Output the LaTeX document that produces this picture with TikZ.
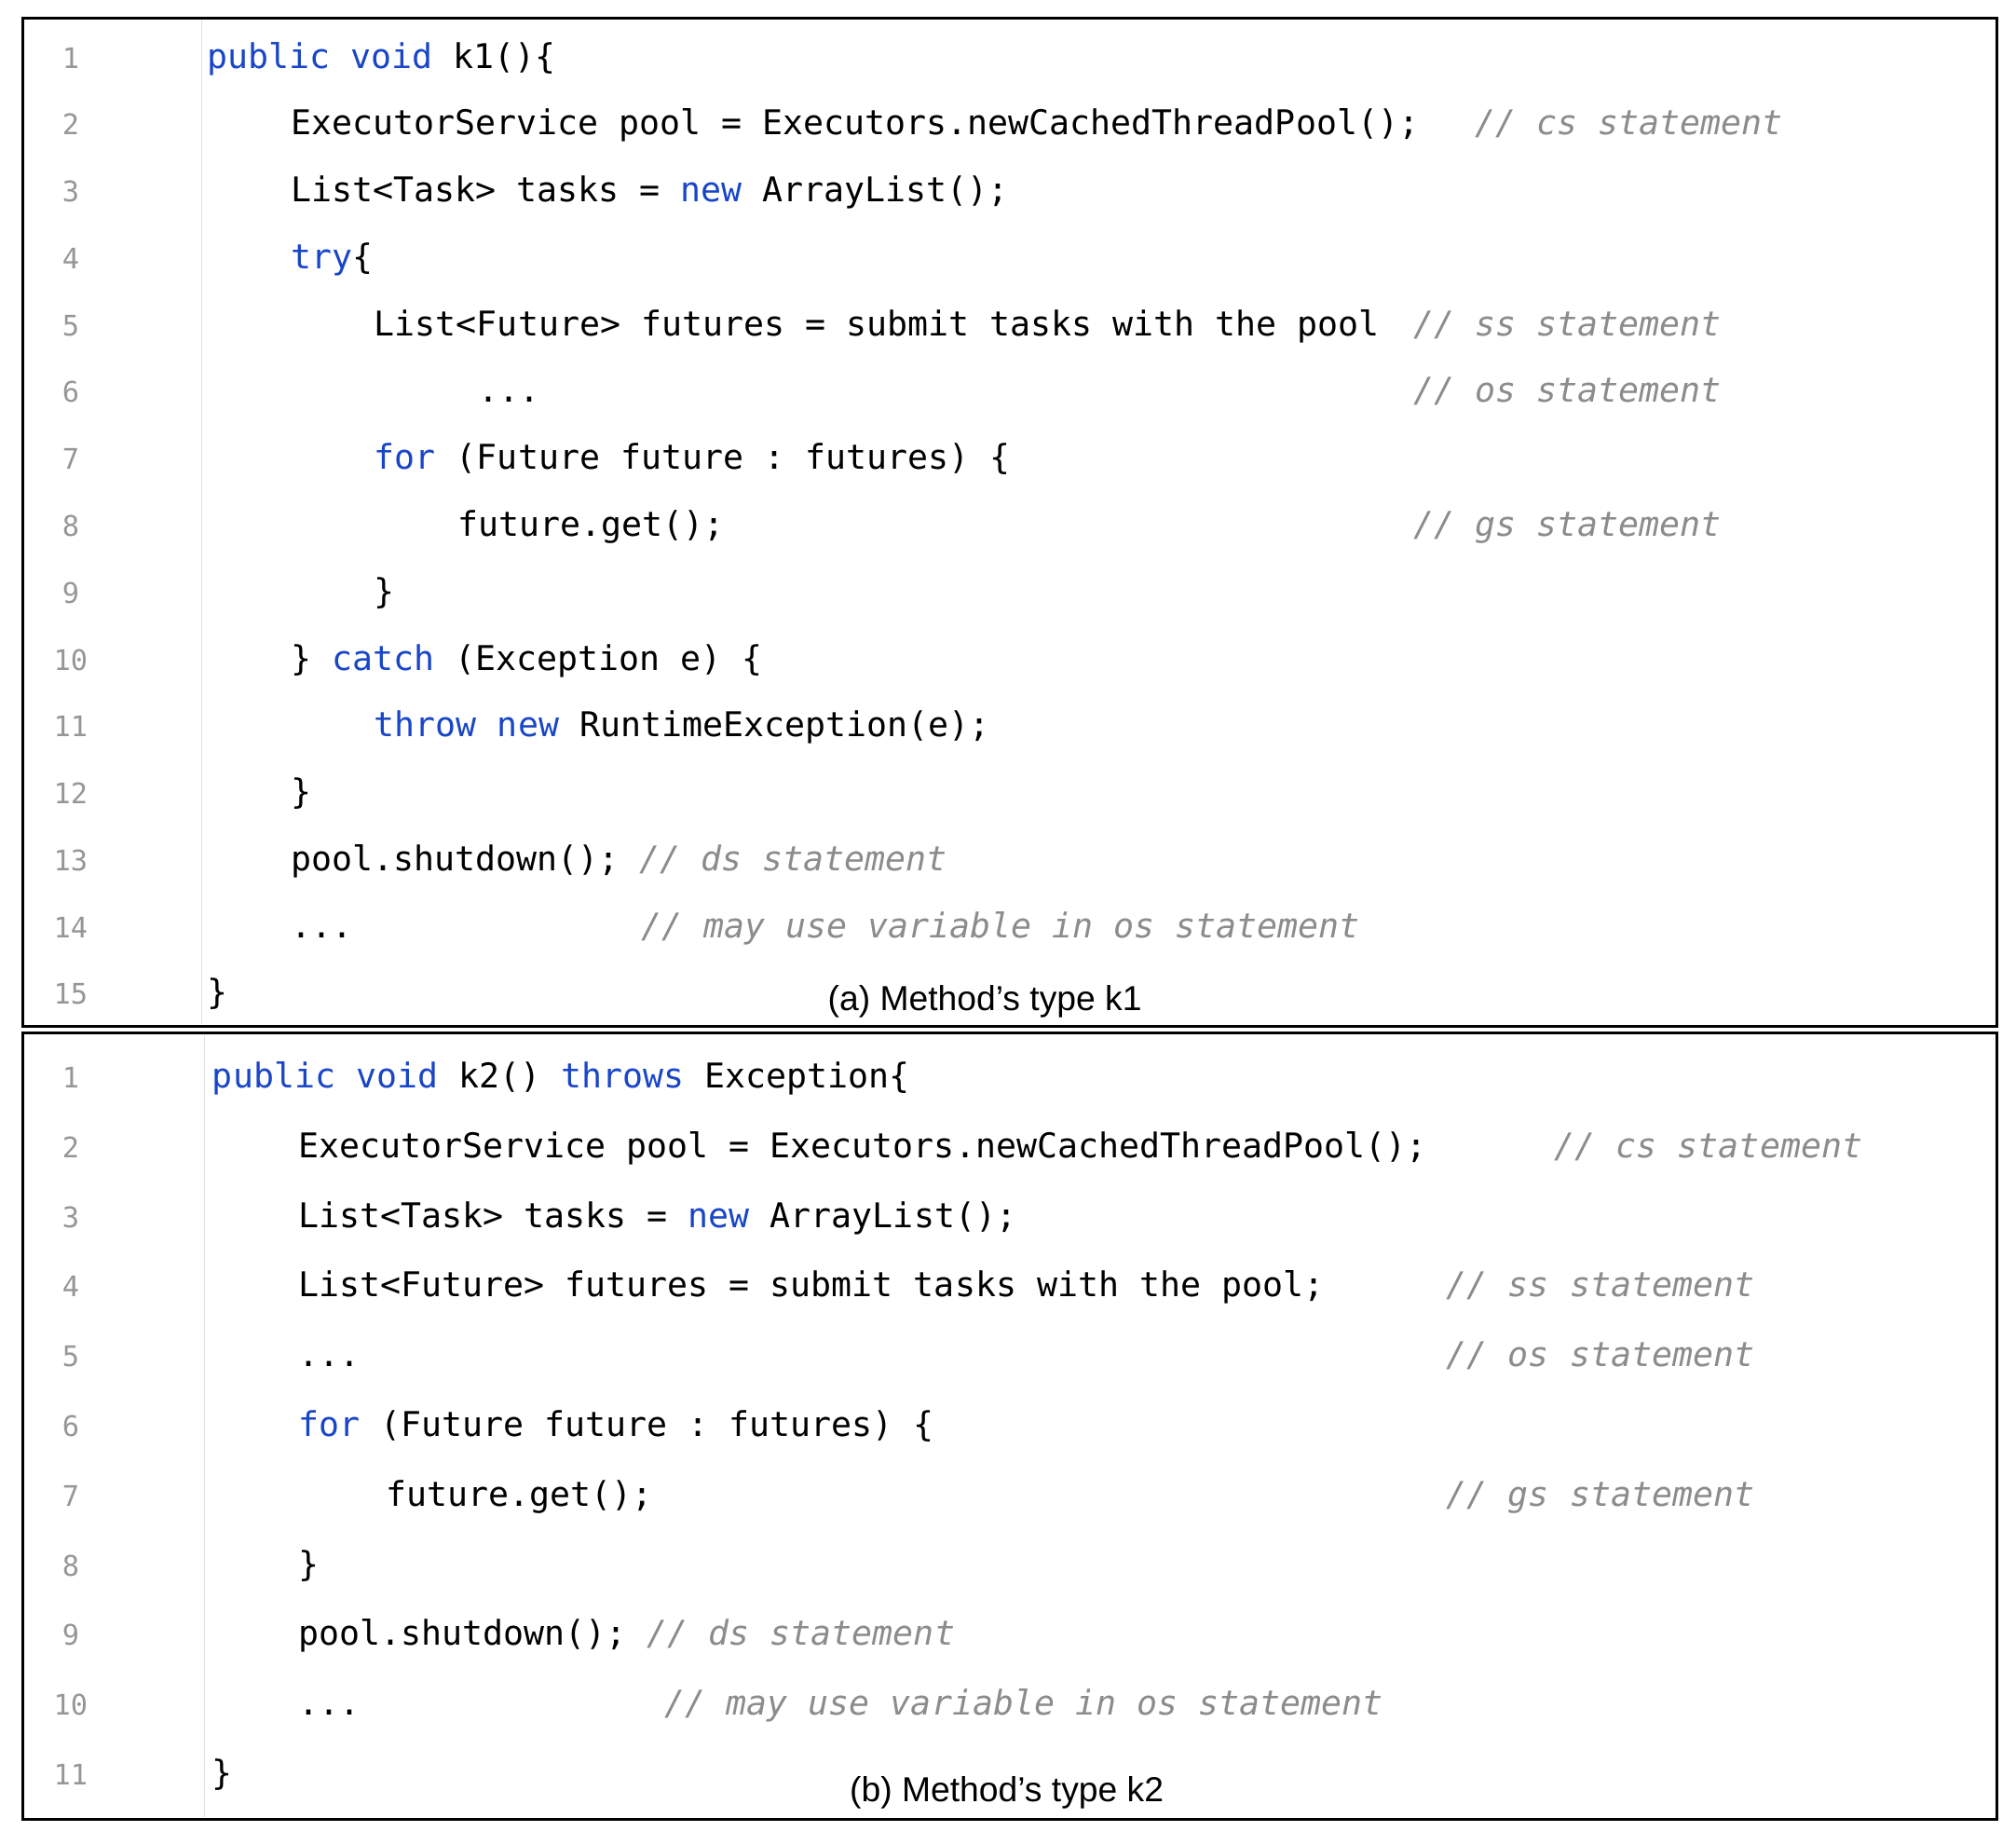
\documentclass[tikz,border=0pt]{standalone}
\usepackage{fontspec}
\setmainfont{Liberation Sans}
\setmonofont{DejaVu Sans Mono}
\definecolor{kw}{RGB}{25,70,200}
\definecolor{cm}{RGB}{140,140,140}
\definecolor{ln}{RGB}{150,150,150}
\newcommand{\K}[1]{\textcolor{kw}{#1}}
\newcommand{\C}[1]{\textcolor{cm}{\itshape #1}}
\tikzset{code/.style={anchor=base west,inner sep=0pt,font=\fontsize{26.5}{30}\selectfont\ttfamily},
 num/.style={anchor=base,inner sep=0pt,text=ln,font=\fontsize{22}{26}\selectfont\ttfamily},
 captxt/.style={anchor=base,inner sep=0pt,font=\fontsize{27}{30}\selectfont},
 frame/.style={draw=black,line width=2pt}}
\begin{document}
\begin{tikzpicture}[x=1pt,y=-1pt]
\useasboundingbox (0,0) rectangle (1568,1434);
\fill[white] (0,0) rectangle (1568,1434);
\draw[frame] (18,14) rectangle (1553,798);
\draw[frame] (18,803) rectangle (1553,1415);
\draw[black!12,line width=1pt] (157,16) -- (157,796);
\draw[black!12,line width=1pt] (159,805) -- (159,1413);
% top panel
\foreach \i in {1,...,15}{\node[num] at (55,{44+52*(\i-1)+9}) {\i};}
\def\y#1{{44+52*(#1-1)+9}}
\node[code] at (161,\y1) {\K{public void} k1()\{};
\node[code] at (226,\y2) {ExecutorService pool = Executors.newCachedThreadPool();};
\node[code] at (1147,\y2) {\C{//  cs statement}};
\node[code] at (226,\y3) {List<Task> tasks = \K{new} ArrayList();};
\node[code] at (226,\y4) {\K{try}\{};
\node[code] at (291,\y5) {List<Future> futures = submit tasks with the pool};
\node[code] at (1099,\y5) {\C{// ss statement}};
\node[code] at (372,\y6) {...};
\node[code] at (1099,\y6) {\C{// os statement}};
\node[code] at (291,\y7) {\K{for} (Future future : futures) \{};
\node[code] at (356,\y8) {future.get();};
\node[code] at (1099,\y8) {\C{// gs statement}};
\node[code] at (291,\y9) {\}};
\node[code] at (226,\y{10}) {\} \K{catch} (Exception e) \{};
\node[code] at (291,\y{11}) {\K{throw new} RuntimeException(e);};
\node[code] at (226,\y{12}) {\}};
\node[code] at (226,\y{13}) {pool.shutdown(); \C{// ds statement}};
\node[code] at (226,\y{14}) {...};
\node[code] at (499,\y{14}) {\C{// may use variable in os statement}};
\node[code] at (161,\y{15}) {\}};
\node[captxt] (capa) at (766,786) {(a) Method's type k1};
% bottom panel
\foreach \i in {1,...,11}{\node[num] at (55,{837+54.2*(\i-1)+9}) {\i};}
\def\z#1{{837+54.2*(#1-1)+9}}
\node[code] at (165,\z1) {\K{public void} k2() \K{throws} Exception\{};
\node[code] at (232,\z2) {ExecutorService pool = Executors.newCachedThreadPool();};
\node[code] at (1209,\z2) {\C{//  cs statement}};
\node[code] at (232,\z3) {List<Task> tasks = \K{new} ArrayList();};
\node[code] at (232,\z4) {List<Future> futures =  submit tasks with the pool;};
\node[code] at (1125,\z4) {\C{// ss statement}};
\node[code] at (232,\z5) {...};
\node[code] at (1125,\z5) {\C{// os statement}};
\node[code] at (232,\z6) {\K{for} (Future future : futures) \{};
\node[code] at (300,\z7) {future.get();};
\node[code] at (1125,\z7) {\C{// gs statement}};
\node[code] at (232,\z8) {\}};
\node[code] at (232,\z9) {pool.shutdown(); \C{// ds statement}};
\node[code] at (232,\z{10}) {...};
\node[code] at (517,\z{10}) {\C{// may use variable in os statement}};
\node[code] at (165,\z{11}) {\}};
\node[captxt] (capb) at (783,1401) {(b) Method's type k2};
\end{tikzpicture}
\end{document}
